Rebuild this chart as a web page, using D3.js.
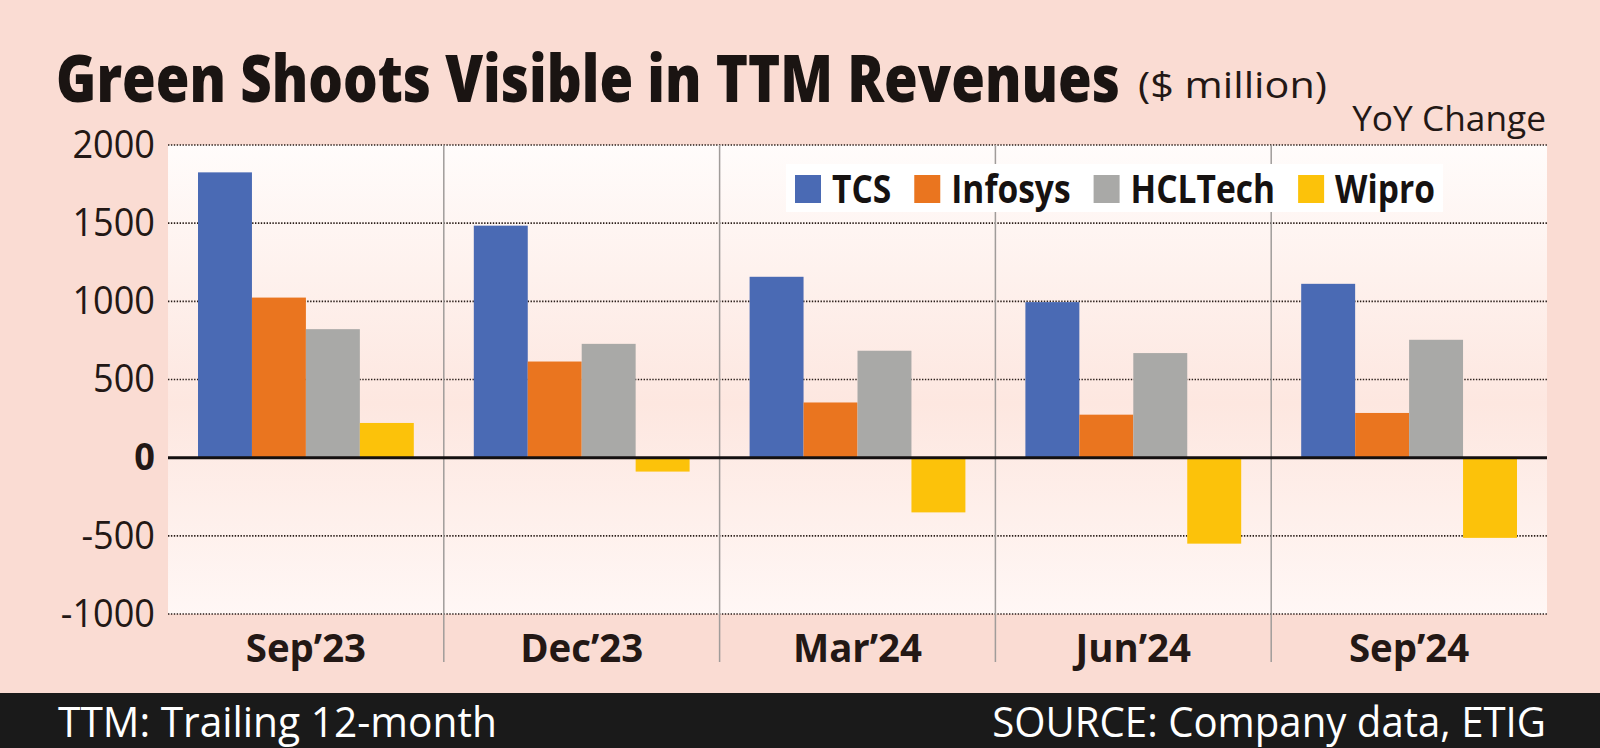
<!DOCTYPE html>
<html>
<head>
<meta charset="utf-8">
<script src="https://cdn.jsdelivr.net/npm/d3@7"></script>
<style>
  html, body { margin: 0; padding: 0; background: #fadcd3; }
  svg { display: block; font-family: "Open Sans", "Noto Sans", sans-serif; }
</style>
</head>
<body>
<div id="chart"></div>
<script>
// chart values
var categories = ["Sep’23", "Dec’23", "Mar’24", "Jun’24", "Sep’24"];
var companies = ["TCS", "Infosys", "HCLTech", "Wipro"];
var tcs = [1825, 1484, 1157, 995, 1112];
var infosys = [1024, 615, 353, 275, 286];
var hcltech = [822, 728, 684, 669, 754];
var wipro = [222, -89, -350, -550, -513];
var yTicks = [-1000, -500, 0, 500, 1000, 1500, 2000];
var colors = ["#4a6ab4", "#ea751f", "#a9a9a7", "#fcc20a"];

function init(){
    var w = 1600, h = 748;
    var left = 168, right = 1547, top = 145, bottom = 614;

    var svg = d3.select("#chart").append("svg")
        .attr("width", w)
        .attr("height", h);

    // the original uses a condensed face: scale the text horizontally
    var scaleText = function(node, k){
        var s = d3.select(node);
        var tx = +s.attr("x") || 0, ty = +s.attr("y") || 0;
        s.attr("x", 0).attr("y", 0)
         .attr("transform", "translate(" + tx + "," + ty + ") scale(" + k + ",1)");
    };
    var squeeze = function(sel, k){
        sel.each(function(){ scaleText(this, k); });
    };
    var fitTo = function(sel, width){
        sel.each(function(){ scaleText(this, width / this.getComputedTextLength()); });
    };

    // background + plot gradient
    svg.append("rect").attr("width", w).attr("height", h).attr("fill", "#fadcd3");
    var grad = svg.append("defs").append("linearGradient")
        .attr("id", "plotbg").attr("x1", 0).attr("y1", 0).attr("x2", 0).attr("y2", 1);
    grad.append("stop").attr("offset", "0%").attr("stop-color", "#fffcfb");
    grad.append("stop").attr("offset", "55%").attr("stop-color", "#fde7e0");
    grad.append("stop").attr("offset", "100%").attr("stop-color", "#fff7f5");

    // scales
    var x0 = d3.scaleBand().domain(categories).range([left, right]).padding(0);
    var x1 = d3.scaleBand().domain(companies).range([30, x0.bandwidth() - 30]).padding(0);
    var y = d3.scaleLinear().domain([-1000, 2000]).range([bottom, top]);

    svg.append("rect")
        .attr("x", left).attr("y", y(2000))
        .attr("width", right - left).attr("height", y(-1000) - y(2000))
        .attr("fill", "url(#plotbg)");

    // dotted grid lines
    svg.append("g").selectAll("line")
        .data(yTicks.filter(function(d){ return d != 0; }))
        .enter().append("line")
        .attr("x1", left).attr("x2", right)
        .attr("y1", function(d){ return y(d); })
        .attr("y2", function(d){ return y(d); })
        .attr("stroke", "#2a1e1a")
        .attr("stroke-width", 1.6)
        .attr("stroke-dasharray", "1.4,1.5");

    // group dividers
    svg.append("g").selectAll("line")
        .data(categories.slice(1))
        .enter().append("line")
        .attr("x1", function(d){ return x0(d); })
        .attr("x2", function(d){ return x0(d); })
        .attr("y1", y(2000)).attr("y2", 662)
        .attr("stroke", "#a09c9a")
        .attr("stroke-width", 1.5);

    // bars
    var series = [tcs, infosys, hcltech, wipro];
    var rows = [];
    categories.forEach(function(c, i){
        companies.forEach(function(k, j){
            rows.push({cat: c, co: k, idx: j, value: series[j][i]});
        });
    });
    svg.append("g").selectAll("rect")
        .data(rows)
        .enter().append("rect")
        .attr("x", function(d){ return x0(d.cat) + x1(d.co); })
        .attr("y", function(d){ return y(Math.max(0, d.value)); })
        .attr("width", x1.bandwidth())
        .attr("height", function(d){ return Math.abs(y(d.value) - y(0)); })
        .attr("fill", function(d){ return colors[d.idx]; });

    // zero line
    svg.append("line")
        .attr("x1", left).attr("x2", right)
        .attr("y1", y(0)).attr("y2", y(0))
        .attr("stroke", "#141010").attr("stroke-width", 3);

    // y axis labels (plain hyphen for negatives, as in the original)
    var yAxis = d3.axisLeft(y).tickValues(yTicks).tickSize(0).tickPadding(13)
        .tickFormat(function(d){ return String(d); });
    var gy = svg.append("g").attr("transform", "translate(" + left + ",0)").call(yAxis);
    gy.select(".domain").remove();
    gy.selectAll("text")
        .attr("fill", "#231815")
        .style("font-size", "38px")
        .style("font-family", "'Open Sans', sans-serif")
        .style("font-weight", function(d){ return d == 0 ? 700 : 400; })
        .call(squeeze, 0.95);

    // x labels
    svg.append("g").selectAll("text")
        .data(categories)
        .enter().append("text")
        .attr("x", function(d){ return x0(d) + x0.bandwidth() / 2; })
        .attr("y", 662)
        .attr("text-anchor", "middle")
        .attr("fill", "#231815")
        .style("font-size", "40px")
        .style("font-weight", 700)
        .text(function(d){ return d; })
        .call(squeeze, 0.96);

    // legend
    var lg = svg.append("g");
    lg.append("rect")
        .attr("x", 786).attr("y", 164)
        .attr("width", 657).attr("height", 48)
        .attr("fill", "#ffffff");
    var lx = 795, k = 0.86;
    companies.forEach(function(name, j){
        lg.append("rect")
            .attr("x", lx).attr("y", 175)
            .attr("width", 26).attr("height", 28)
            .attr("fill", colors[j]);
        var t = lg.append("text")
            .attr("x", lx + 37).attr("y", 203)
            .attr("fill", "#161211")
            .style("font-size", "39px")
            .style("font-weight", 700)
            .text(name);
        var len = t.node().getComputedTextLength() * k;
        t.call(squeeze, k);
        lx = lx + 37 + len + 23;
    });

    // title
    svg.append("text")
        .attr("x", 56).attr("y", 102)
        .attr("fill", "#1a1412")
        .style("font-size", "66px")
        .style("font-weight", 800)
        .text("Green Shoots Visible in TTM Revenues")
        .call(fitTo, 1064);
    svg.append("text")
        .attr("x", 1138).attr("y", 98)
        .attr("fill", "#231815")
        .style("font-size", "37px")
        .text("($ million)")
        .call(fitTo, 189);
    svg.append("text")
        .attr("x", 1546).attr("y", 131)
        .attr("text-anchor", "end")
        .attr("fill", "#231815")
        .style("font-size", "35px")
        .text("YoY Change")
        .call(fitTo, 194);

    // footer band
    svg.append("rect")
        .attr("x", 0).attr("y", 693)
        .attr("width", w).attr("height", h - 693)
        .attr("fill", "#1a1a1a");
    svg.append("text")
        .attr("x", 58).attr("y", 737)
        .attr("fill", "#ffffff")
        .style("font-size", "42px")
        .text("TTM: Trailing 12-month")
        .call(fitTo, 439);
    svg.append("text")
        .attr("x", 1546).attr("y", 737)
        .attr("text-anchor", "end")
        .attr("fill", "#ffffff")
        .style("font-size", "42px")
        .text("SOURCE: Company data, ETIG")
        .call(fitTo, 554);
}
window.onload = init;
</script>
</body>
</html>
